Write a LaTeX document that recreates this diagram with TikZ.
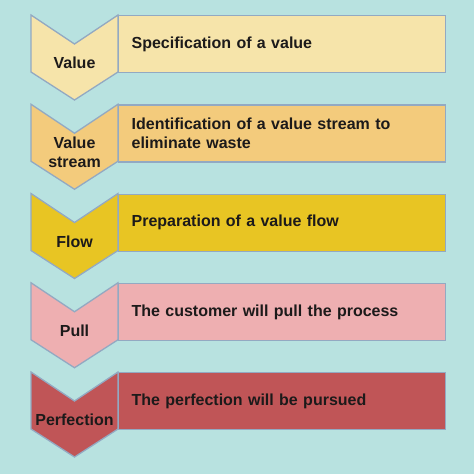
\documentclass[tikz,border=0pt]{standalone}
\usepackage{fontspec}
\setmainfont{Liberation Sans}
\usetikzlibrary{positioning}

\definecolor{bgcyan}{HTML}{B8E2E0}
\definecolor{edgeblue}{HTML}{93A9C2}
\definecolor{inktext}{HTML}{1C1A1A}
\definecolor{valuecol}{HTML}{F6E4AA}
\definecolor{streamcol}{HTML}{F3CB7C}
\definecolor{flowcol}{HTML}{E8C523}
\definecolor{pullcol}{HTML}{EEAFB1}
\definecolor{perfcol}{HTML}{C05557}

\begin{document}
\begin{tikzpicture}[x=1pt, y=-1pt,
    chev/.style={draw=edgeblue, line width=1.3pt, line join=miter},
    descbox/.style={draw=edgeblue, line width=1.3pt, anchor=north west,
        minimum width=327pt, minimum height=57pt, inner xsep=13pt, inner ysep=0pt,
        text width=301pt, align=left, text=inktext,
        font=\bfseries\fontsize{16}{19}\selectfont},
    steplbl/.style={align=center, text=inktext, inner sep=0pt,
        font=\bfseries\fontsize{16}{19}\selectfont}
]
% background
\fill[bgcyan] (0,0) rectangle (474,474);
\useasboundingbox (0,0) rectangle (474,474);

% chevrons and description boxes
\foreach \i/\name/\lbl/\desc/\clr in {
    0/value/{Value}/{Specification of a value}/valuecol,
    1/stream/{Value\\stream}/{Identification of a value stream to\\eliminate waste}/streamcol,
    2/flow/{Flow}/{Preparation of a value flow}/flowcol,
    3/pull/{Pull}/{The customer will pull the process}/pullcol,
    4/perf/{Perfection}/{The perfection will be pursued}/perfcol} {
    \pgfmathsetmacro{\top}{15+89.25*\i}
    \filldraw[chev, fill=\clr] (31,\top) -- (74.5,\top+29) -- (118,\top)
        -- (118,\top+57) -- (74.5,\top+85) -- (31,\top+57) -- cycle;
    \node[steplbl] (\name-lbl) at (74.5,\top+48) {\lbl};
    \node[descbox, fill=\clr] (\name-box) at (118,\top) {\desc};
}
\end{tikzpicture}
\end{document}
